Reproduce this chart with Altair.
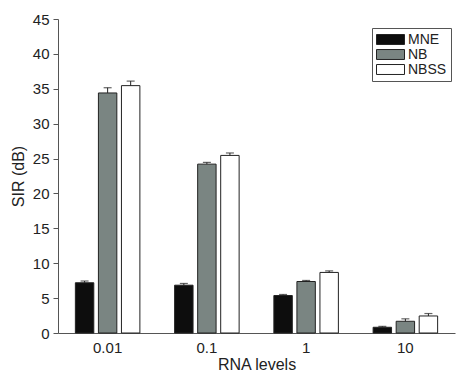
import altair as alt
import pandas as pd

levels = ["0.01", "0.1", "1", "10"]
methods = ["MNE", "NB", "NBSS"]
mne = [7.2, 6.85, 5.37, 0.82]
nb = [34.4, 24.2, 7.38, 1.68]
nbss = [35.45, 25.45, 8.68, 2.44]
mne_err = [0.25, 0.25, 0.15, 0.13]
nb_err = [0.75, 0.25, 0.15, 0.35]
nbss_err = [0.65, 0.35, 0.22, 0.35]
y_ticks = [0, 5, 10, 15, 20, 25, 30, 35, 40, 45]

rows = []
for i, lv in enumerate(levels):
    for m, vals, errs in [("MNE", mne, mne_err), ("NB", nb, nb_err), ("NBSS", nbss, nbss_err)]:
        rows.append({"level": lv, "method": m, "value": vals[i], "top": vals[i] + errs[i]})
df = pd.DataFrame(rows)

font = "Liberation Sans"
xaxis = alt.Axis(labelAngle=0, ticks=False, domainColor="#555", labelFontSize=15,
                 titleFontSize=16, labelColor="#222", titleColor="#222",
                 labelFont=font, titleFont=font, titleFontWeight="normal",
                 labelPadding=7, titlePadding=1)
yaxis = alt.Axis(values=y_ticks, grid=False, tickSize=5, labelOverlap=False,
                 domainColor="#555", tickColor="#555", labelFontSize=15,
                 titleFontSize=16, labelColor="#222", titleColor="#222",
                 labelFont=font, titleFont=font, titleFontWeight="normal",
                 labelPadding=4, titlePadding=6)
xscale = alt.Scale(paddingInner=0.35, paddingOuter=0.175)
yscale = alt.Scale(domain=[0, 45], nice=False)

xenc = alt.X("level:N", sort=levels, title="RNA levels", scale=xscale, axis=xaxis)
xoff = alt.XOffset("method:N", sort=methods, scale=alt.Scale(paddingInner=0.2))

bars = alt.Chart(df).mark_bar(stroke="#222", strokeWidth=1).encode(
    x=xenc,
    xOffset=xoff,
    y=alt.Y("value:Q", scale=yscale, title="SIR (dB)", axis=yaxis),
    fill=alt.Fill("method:N", sort=methods,
                  scale=alt.Scale(domain=methods, range=["#0d0d0d", "#7a8582", "#ffffff"]),
                  legend=alt.Legend(title=None, orient="none", legendX=314, legendY=9,
                                    symbolType="M-1,-0.71L3,-0.71L3,0.71L-1,0.71Z",
                                    symbolSize=196, symbolStrokeColor="#222",
                                    symbolStrokeWidth=1, labelFontSize=14, labelFont=font,
                                    labelColor="#222", rowPadding=0, strokeColor="#555",
                                    padding=4, fillColor="white", labelOffset=17)),
)

err = alt.Chart(df).mark_rule(color="#222", strokeWidth=1).encode(
    x=xenc, xOffset=xoff,
    y=alt.Y("value:Q", scale=yscale, title="SIR (dB)", axis=yaxis), y2="top:Q")
caps = alt.Chart(df).mark_tick(color="#222", thickness=1.2, size=8).encode(
    x=xenc, xOffset=xoff,
    y=alt.Y("top:Q", scale=yscale, title="SIR (dB)", axis=yaxis))

chart = alt.layer(bars, err, caps).properties(
    width=397, height=314,
    autosize=alt.AutoSizeParams(type="none"),
    padding={"left": 50, "top": 11, "right": 10, "bottom": 50},
).configure_view(stroke=None)

chart.save("out.html", embed_options={"renderer": "svg", "actions": False})
